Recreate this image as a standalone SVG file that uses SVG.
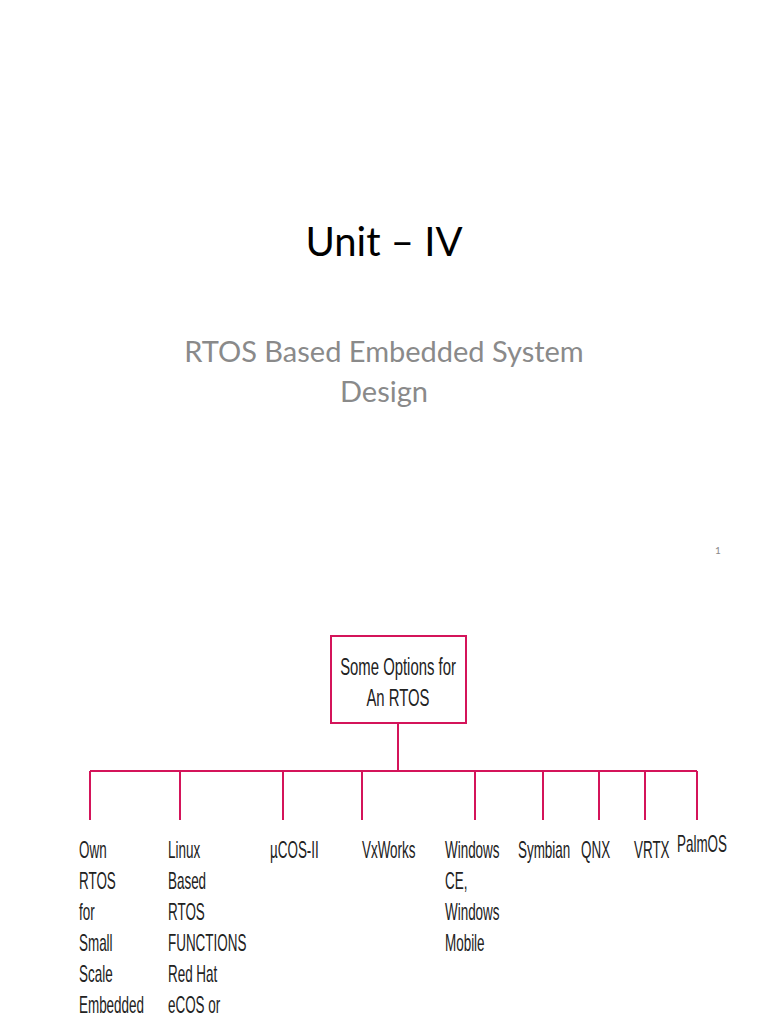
<svg xmlns="http://www.w3.org/2000/svg" width="768" height="1024" viewBox="0 0 768 1024">
<style>
.t{font-family:"Liberation Sans",Arial,sans-serif;font-size:24px;fill:#222}
.ln{stroke:#d4145a;stroke-width:2;fill:none}
</style>
<rect width="768" height="1024" fill="#fff"/>
<text x="384" y="256" text-anchor="middle" font-family="Lato,'Open Sans',sans-serif" font-size="40" fill="#000">Unit – IV</text>
<text x="384" y="362" text-anchor="middle" font-family="Lato,'Open Sans',sans-serif" font-size="29" fill="#8a8a8a">RTOS Based Embedded System</text>
<text x="384" y="402" text-anchor="middle" font-family="Lato,'Open Sans',sans-serif" font-size="29" fill="#8a8a8a">Design</text>
<text x="718" y="554" text-anchor="middle" font-family="Lato,sans-serif" font-size="10" fill="#8a8a8a">1</text>
<g id="root">
<rect x="331" y="636" width="135" height="87" fill="#fff" stroke="#d4145a" stroke-width="2"/>
<g transform="translate(398,0) scale(0.62,1)"><text class="t" text-anchor="middle" y="675">Some Options for</text><text class="t" text-anchor="middle" y="706">An RTOS</text></g>
</g>
<g id="connectors">
<path class="ln" d="M398,724V771M90,771H697M90,771V820M180,771V820M283,771V820M362,771V820M475,771V820M543,771V820M599,771V820M645,771V820M697,771V820"/>
</g>
<g id="own" transform="translate(79,0) scale(0.56,1)"><text class="t" y="858">Own</text><text class="t" y="889">RTOS</text><text class="t" y="920">for</text><text class="t" y="951">Small</text><text class="t" y="982">Scale</text><text class="t" y="1013">Embedded</text></g>
<g id="linux" transform="translate(168,0) scale(0.56,1)"><text class="t" y="858">Linux</text><text class="t" y="889">Based</text><text class="t" y="920">RTOS</text><text class="t" y="951">FUNCTIONS</text><text class="t" y="982">Red Hat</text><text class="t" y="1013">eCOS or</text></g>
<g id="ucos" transform="translate(270,0) scale(0.56,1)"><text class="t" y="858">µCOS-II</text></g>
<g id="vxworks" transform="translate(362,0) scale(0.56,1)"><text class="t" y="858">VxWorks</text></g>
<g id="wince" transform="translate(445,0) scale(0.56,1)"><text class="t" y="858">Windows</text><text class="t" y="889">CE,</text><text class="t" y="920">Windows</text><text class="t" y="951">Mobile</text></g>
<g id="symbian" transform="translate(518,0) scale(0.56,1)"><text class="t" y="858">Symbian</text></g>
<g id="qnx" transform="translate(581,0) scale(0.56,1)"><text class="t" y="858">QNX</text></g>
<g id="vrtx" transform="translate(634,0) scale(0.56,1)"><text class="t" y="858">VRTX</text></g>
<g id="palmos" transform="translate(677,0) scale(0.56,1)"><text class="t" y="852">PalmOS</text></g>
</svg>
